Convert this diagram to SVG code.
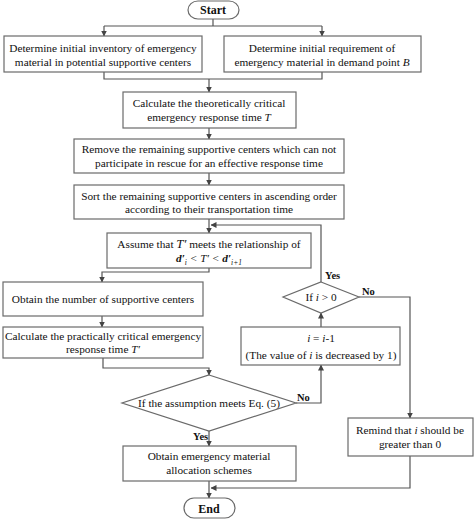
<svg xmlns="http://www.w3.org/2000/svg" width="474" height="519" viewBox="0 0 474 519">
<style>
.box{fill:#fff;stroke:#6a6a6a;stroke-width:1.2}
.t{font-family:"Liberation Serif","Times New Roman",serif;font-size:11.3px;fill:#111;text-anchor:middle}
.b{font-weight:bold;font-size:12px}
.lbl{font-family:"Liberation Serif","Times New Roman",serif;font-size:10.5px;font-weight:bold;fill:#111}
.c{fill:none;stroke:#555;stroke-width:1.2}
</style>
<defs>
<marker id="ah" markerWidth="6" markerHeight="6" refX="5.5" refY="3" orient="auto" markerUnits="userSpaceOnUse">
<path d="M0,0 L6,3 L0,6 Z" fill="#444"/>
</marker>
</defs>
<rect width="474" height="519" fill="#fff"/>
<g id="connectors">
<path class="c" d="M213,19 V26 M104,26 H322"/>
<path class="c" d="M104,26 V36" marker-end="url(#ah)"/>
<path class="c" d="M322,26 V36" marker-end="url(#ah)"/>
<path class="c" d="M104,72 V79 H322 V72"/>
<path class="c" d="M209,79 V92" marker-end="url(#ah)"/>
<path class="c" d="M209,128 V139" marker-end="url(#ah)"/>
<path class="c" d="M209,173 V185" marker-end="url(#ah)"/>
<path class="c" d="M209,219 V233" marker-end="url(#ah)"/>
<path class="c" d="M321,282 V225 H211" marker-end="url(#ah)"/>
<path class="c" d="M209,268 V272 H102 V282" marker-end="url(#ah)"/>
<path class="c" d="M102,316 V327" marker-end="url(#ah)"/>
<path class="c" d="M103,358 V368 H209 V375" marker-end="url(#ah)"/>
<path class="c" d="M296,403 H321 V365" marker-end="url(#ah)"/>
<path class="c" d="M321,327 V313" marker-end="url(#ah)"/>
<path class="c" d="M359,297 H410 V418" marker-end="url(#ah)"/>
<path class="c" d="M209,431 V446" marker-end="url(#ah)"/>
<path class="c" d="M209,481 V498" marker-end="url(#ah)"/>
<path class="c" d="M410,456 V488 H211" marker-end="url(#ah)"/>
</g>
<g id="start">
<rect class="box" x="188" y="1" width="51" height="18" rx="10"/>
<text class="t b" x="213" y="14">Start</text>
</g>
<g id="inventory">
<rect class="box" x="4" y="36" width="198" height="36"/>
<text class="t" x="103" y="52">Determine initial inventory of emergency</text>
<text class="t" x="103" y="66">material in potential supportive centers</text>
</g>
<g id="requirement">
<rect class="box" x="224" y="36" width="197" height="36"/>
<text class="t" x="322" y="52">Determine initial requirement of</text>
<text class="t" x="322" y="66">emergency material in demand point <tspan font-style="italic">B</tspan></text>
</g>
<g id="theoretical">
<rect class="box" x="123" y="92" width="173" height="36"/>
<text class="t" x="209" y="107">Calculate the theoretically critical</text>
<text class="t" x="209" y="121">emergency response time <tspan font-style="italic">T</tspan></text>
</g>
<g id="remove">
<rect class="box" x="74" y="139" width="270" height="34"/>
<text class="t" x="209" y="153">Remove the remaining supportive centers which can not</text>
<text class="t" x="209" y="167">participate in rescue for an effective response time</text>
</g>
<g id="sort">
<rect class="box" x="74" y="185" width="270" height="34"/>
<text class="t" x="209" y="200">Sort the remaining supportive centers in ascending order</text>
<text class="t" x="209" y="213">according to their transportation time</text>
</g>
<g id="assume">
<rect class="box" x="107" y="233" width="204" height="35"/>
<text class="t" x="209" y="248">Assume that <tspan font-style="italic" font-size="13">T′</tspan> meets the relationship of</text>
<text class="t" x="209" y="262" font-style="italic" font-size="12"><tspan font-weight="bold">d′</tspan><tspan font-size="7.5" dy="3">i</tspan><tspan dy="-3"> &lt; T′ &lt; </tspan><tspan font-weight="bold">d′</tspan><tspan font-size="7.5" dy="3">i+1</tspan></text>
</g>
<g id="number">
<rect class="box" x="3" y="282" width="200" height="34"/>
<text class="t" x="103" y="303">Obtain the number of supportive centers</text>
</g>
<g id="practical">
<rect class="box" x="3" y="327" width="200" height="31"/>
<text class="t" x="103" y="340">Calculate the practically critical emergency</text>
<text class="t" x="103" y="353">response time <tspan font-style="italic">T′</tspan></text>
</g>
<g id="check-eq">
<polygon class="box" points="209,375 296,403 209,431 122,403"/>
<text class="t" x="209" y="407">If the assumption meets Eq. (5)</text>
<text class="lbl" x="297" y="401">No</text>
<text class="lbl" x="193" y="440">Yes</text>
</g>
<g id="decrement">
<rect class="box" x="241" y="327" width="159" height="38"/>
<text class="t" x="321" y="342"><tspan font-style="italic">i</tspan> = <tspan font-style="italic">i</tspan>-1</text>
<text class="t" x="321" y="359">(The value of <tspan font-style="italic">i</tspan> is decreased by 1)</text>
</g>
<g id="check-i">
<polygon class="box" points="321,282 359,297 321,313 283,297"/>
<text class="t" x="321" y="301">If <tspan font-style="italic">i</tspan> &gt; 0</text>
<text class="lbl" x="325" y="279">Yes</text>
<text class="lbl" x="362" y="295">No</text>
</g>
<g id="remind">
<rect class="box" x="348" y="418" width="125" height="38"/>
<text class="t" x="410" y="434">Remind that <tspan font-style="italic">i</tspan> should be</text>
<text class="t" x="410" y="448">greater than 0</text>
</g>
<g id="allocation">
<rect class="box" x="123" y="446" width="173" height="35"/>
<text class="t" x="209" y="460">Obtain emergency material</text>
<text class="t" x="209" y="474">allocation schemes</text>
</g>
<g id="end">
<rect class="box" x="184" y="498" width="51" height="20" rx="10"/>
<text class="t b" x="209" y="513">End</text>
</g>
</svg>
